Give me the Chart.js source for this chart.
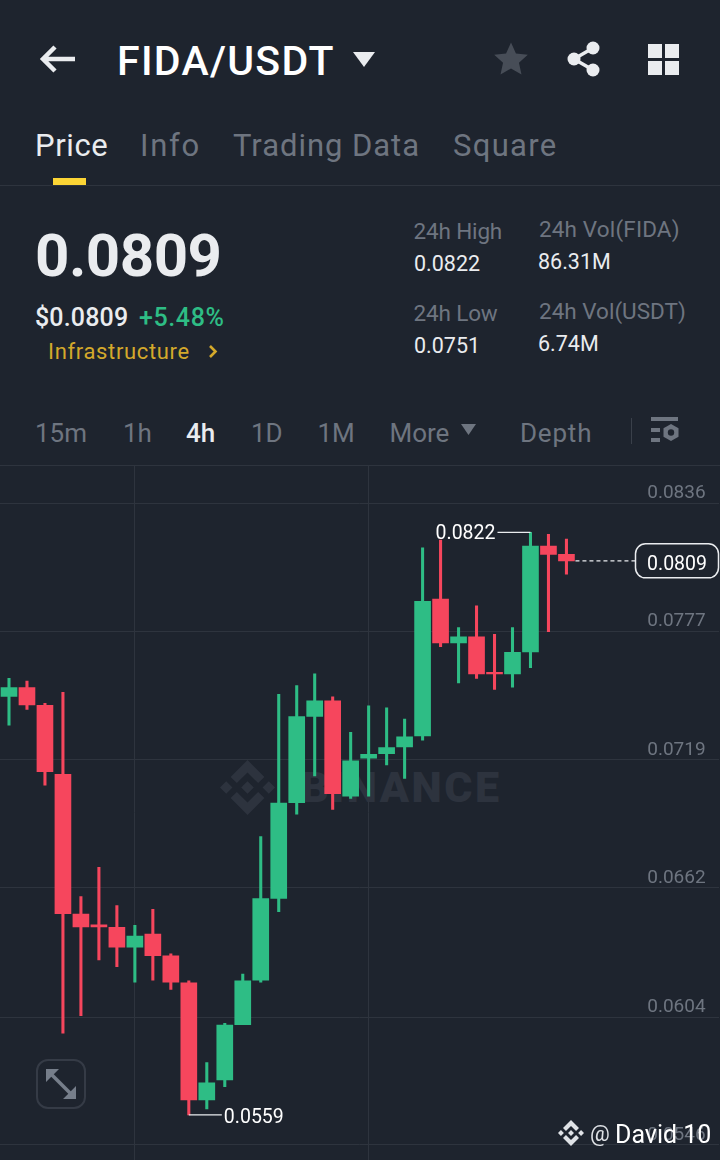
<!DOCTYPE html>
<html>
<head>
<meta charset="utf-8">
<title>FIDA/USDT</title>
<script src="https://cdn.jsdelivr.net/npm/chart.js@4"></script>
<style>
  html, body { margin: 0; padding: 0; background: #1e242e; }
  #page { position: relative; width: 720px; height: 1160px; overflow: hidden; background: #1e242e; font-family: Roboto, sans-serif; color: #eaecef; }
  .t { position: absolute; white-space: nowrap; transform: translateY(-50%); line-height: 1; }
  .muted { color: #6e7580; }
  .rule { position: absolute; left: 0; width: 720px; height: 1px; background: #2e343e; }
  svg { position: absolute; }
  canvas { position: absolute; left: 0; top: 465px; }
</style>
</head>
<body>
<div id="page">
  <!-- top bar -->
  <svg style="left:38px;top:43px" width="38" height="32" viewBox="0 0 38 32"><path d="M17 4L5 16l12 12M5 16h32" fill="none" stroke="#eaecef" stroke-width="4.5"/></svg>
  <div class="t" style="left:117px;top:61px;font-size:41px;font-weight:500;color:#fff;letter-spacing:1.300px">FIDA/USDT</div>
  <svg style="left:352px;top:50px" width="24" height="18" viewBox="0 0 24 18"><path d="M1 2h22L12 17z" fill="#eaecef"/></svg>
  <svg style="left:493px;top:41px" width="36" height="36" viewBox="0 0 24 24"><path d="M12 1l3.3 7.4 7.9.8-5.9 5.3 1.7 7.9-7-4.1-7 4.1 1.7-7.9L.8 9.2l7.9-.8z" fill="#474d57"/></svg>
  <svg style="left:566px;top:41px" width="36" height="36" viewBox="0 0 36 36"><g fill="#eaecef"><circle cx="8" cy="18" r="6.5"/><circle cx="27" cy="7" r="6.5"/><circle cx="27" cy="29" r="6.5"/></g><path d="M8 18L27 7M8 18l19 11" stroke="#eaecef" stroke-width="3.5"/></svg>
  <svg style="left:648px;top:44px" width="32" height="31" viewBox="0 0 32 31"><g fill="#eaecef"><rect x="0" y="0" width="14" height="14"/><rect x="17" y="0" width="14" height="14"/><rect x="0" y="17" width="14" height="14"/><rect x="17" y="17" width="14" height="14"/></g></svg>

  <!-- tabs -->
  <div class="t" style="left:35px;top:145px;font-size:31px;color:#eaecef;letter-spacing:.6px">Price</div>
  <div class="t muted" style="left:140px;top:145px;font-size:31px;letter-spacing:1.700px">Info</div>
  <div class="t muted" style="left:233px;top:145px;font-size:31px;letter-spacing:.950px">Trading Data</div>
  <div class="t muted" style="left:453px;top:145px;font-size:31px;letter-spacing:1.300px">Square</div>
  <div style="position:absolute;left:53px;top:178px;width:33px;height:7px;background:#fcd535"></div>
  <div class="rule" style="top:185px"></div>

  <!-- price block -->
  <div class="t" style="left:35px;top:256px;font-size:60px;font-weight:700;letter-spacing:-.5px">0.0809</div>
  <div class="t" style="left:35px;top:317px;font-size:25px;font-weight:500;letter-spacing:.15px">$0.0809</div>
  <div class="t" style="left:139px;top:317px;font-size:25px;font-weight:500;color:#2ebd85;letter-spacing:.6px">+5.48%</div>
  <div class="t" style="left:48px;top:352px;font-size:22px;color:#d4a92b;letter-spacing:.65px">Infrastructure</div>
  <svg style="left:207px;top:344px" width="12" height="15" viewBox="0 0 12 15"><path d="M3 2l5.5 5.5L3 13" fill="none" stroke="#d4a92b" stroke-width="2.6"/></svg>

  <div class="t muted" style="left:413.500px;top:231px;font-size:22.500px;letter-spacing:-.15px">24h High</div>
  <div class="t" style="left:414px;top:264px;font-size:21.500px">0.0822</div>
  <div class="t muted" style="left:413.500px;top:313px;font-size:22.500px;letter-spacing:-.15px">24h Low</div>
  <div class="t" style="left:414px;top:346px;font-size:21.500px">0.0751</div>
  <div class="t muted" style="left:539px;top:229px;font-size:22.500px;letter-spacing:.15px">24h Vol(FIDA)</div>
  <div class="t" style="left:538px;top:262px;font-size:21.500px">86.31M</div>
  <div class="t muted" style="left:539px;top:311px;font-size:22.500px">24h Vol(USDT)</div>
  <div class="t" style="left:538px;top:344px;font-size:21.500px">6.74M</div>

  <!-- interval row -->
  <div class="t muted" style="left:35px;top:433px;font-size:26px">15m</div>
  <div class="t muted" style="left:123px;top:433px;font-size:26px">1h</div>
  <div class="t" style="left:186px;top:433px;font-size:26px;font-weight:500">4h</div>
  <div class="t muted" style="left:251px;top:433px;font-size:26px">1D</div>
  <div class="t muted" style="left:317.500px;top:433px;font-size:26px">1M</div>
  <div class="t muted" style="left:389.500px;top:433px;font-size:26px">More</div>
  <svg style="left:460px;top:423px" width="17" height="13" viewBox="0 0 17 13"><path d="M1 1h15L8.500 12z" fill="#6e7580"/></svg>
  <div class="t muted" style="left:520px;top:433px;font-size:26px;letter-spacing:.8px">Depth</div>
  <div style="position:absolute;left:631px;top:418px;width:1px;height:26px;background:#3a404a"></div>
  <svg style="left:650px;top:416px" width="30" height="29" viewBox="0 0 30 29"><g fill="#6e7580"><rect x="1" y="1" width="27" height="4"/><rect x="1" y="12" width="9" height="4"/><rect x="1" y="22" width="9" height="4"/><path d="M21 8l7.500 4.300v8.500L21 25l-7.500-4.200v-8.500z"/></g><circle cx="21" cy="16.500" r="3.200" fill="#1e242e"/></svg>

  <div class="rule" style="top:465px"></div>

  <!-- chart watermark, sits below the canvas -->
  <svg style="left:220px;top:760px" width="55" height="55" viewBox="0 0 126.61 126.61"><path fill="#2d333e" d="M38.73 53.2l24.59-24.58 24.6 24.6 14.3-14.31L63.32 0 24.42 38.9zM0 63.31l14.3-14.31 14.31 14.31-14.31 14.3zM38.73 73.41L63.32 98l24.6-24.6 14.31 14.29-38.9 38.91-38.91-38.88zM98 63.31l14.3-14.31 14.31 14.3-14.31 14.32zM77.83 63.3L63.32 48.78 52.59 59.51l-1.24 1.23-2.54 2.54 14.51 14.5 14.51-14.47z"/></svg>
  <div class="t" style="left:301px;top:787px;font-size:43px;font-weight:900;color:#2d333e;letter-spacing:2.500px">BINANCE</div>

  <canvas id="candleChart" width="720" height="695"></canvas>

  <!-- expand button -->
  <svg style="left:36px;top:1059px" width="50" height="50" viewBox="0 0 50 50"><rect x="1" y="1" width="48" height="48" rx="11" fill="#1e242e" stroke="#353b46" stroke-width="2"/><path d="M14 14l22 22" fill="none" stroke="#767e8a" stroke-width="3.500"/><path fill="#767e8a" d="M10 10h13L10 23zM40 40H27l13-13z"/></svg>

  <!-- corner watermark -->
  <svg style="left:558px;top:1120px" width="26" height="26" viewBox="0 0 126.61 126.61"><path fill="#dfe2e6" d="M38.73 53.2l24.59-24.58 24.6 24.6 14.3-14.31L63.32 0 24.42 38.9zM0 63.31l14.3-14.31 14.31 14.31-14.31 14.3zM38.73 73.41L63.32 98l24.6-24.6 14.31 14.29-38.9 38.91-38.91-38.88zM98 63.31l14.3-14.31 14.31 14.3-14.31 14.32zM77.83 63.3L63.32 48.78 52.59 59.51l-1.24 1.23-2.54 2.54 14.51 14.5 14.51-14.47z"/></svg>
  <div class="t" style="left:590px;top:1134px;font-size:22px;color:#dfe2e6">@</div>
  <div class="t" style="left:615px;top:1134px;font-size:25px;color:#fff">David 10</div>
</div>

<script>
// 4h candles, oldest first
const opens  = [0.07487,0.07526,0.07446,0.07135,0.06503,0.06454,0.06443,0.06354,0.06413,0.06314,0.06193,0.05663,0.05754,0.06003,0.06204,0.06574,0.07006,0.07396,0.07466,0.07036,0.07207,0.07228,0.07258,0.07308,0.07926,0.07728,0.07756,0.07595,0.07588,0.07688,0.08166,0.08128];
const highs  = [0.07568,0.07556,0.07455,0.07505,0.06582,0.06714,0.06541,0.06452,0.06525,0.06323,0.06202,0.05832,0.06010,0.06232,0.06853,0.07496,0.07535,0.07588,0.07485,0.07324,0.07444,0.07435,0.07384,0.08158,0.08193,0.07797,0.07896,0.07767,0.07797,0.08228,0.08219,0.08197];
const lows   = [0.07357,0.07428,0.07086,0.05965,0.06044,0.06296,0.06265,0.06195,0.06205,0.06163,0.05596,0.05623,0.05723,0.06003,0.06195,0.06514,0.06955,0.07127,0.06976,0.07026,0.07036,0.07177,0.07116,0.07289,0.07711,0.07547,0.07568,0.07518,0.07528,0.07616,0.07779,0.08039];
const closes = [0.07526,0.07448,0.07146,0.06505,0.06445,0.06445,0.06354,0.06404,0.06315,0.06195,0.05663,0.05741,0.06002,0.06202,0.06573,0.07004,0.07395,0.07466,0.07047,0.07195,0.07225,0.07255,0.07304,0.07916,0.07728,0.07756,0.07588,0.07588,0.07686,0.08166,0.08128,0.08099];

const yTickValues = [0.08360,0.07782,0.07201,0.06621,0.06038,0.05460];
const yTickLabels = ['0.0836','0.0777','0.0719','0.0662','0.0604','0.0546'];
const yMin = 0.05392, yMax = 0.08532;

const slotCount = 40;              // room is left to the right of the last candle
const verticalGridAt = [7, 20];    // candle slots with a time grid line

const highLabel = '0.0822', lowLabel = '0.0559', lastLabel = '0.0809';

const GREEN = '#2ebd85', RED = '#f6465d';
const GRID = '#2e343e';

const slots = Array.from({ length: slotCount }, (_, i) => String(i));
const candleColors = opens.map((o, i) => closes[i] >= o ? GREEN : RED);

// high/low callouts and the last price tag
const overlayPlugin = {
  id: 'overlay',
  afterDatasetsDraw(chart) {
    const { ctx, scales: { x, y } } = chart;
    const hiIdx = highs.indexOf(Math.max(...highs));
    const loIdx = lows.indexOf(Math.min(...lows));
    ctx.save();
    ctx.font = '19.5px Roboto';
    ctx.textBaseline = 'middle';
    ctx.strokeStyle = '#eaecef';
    ctx.fillStyle = '#fff';
    ctx.lineWidth = 1.2;

    const hx = x.getPixelForValue(hiIdx), hy = y.getPixelForValue(highs[hiIdx]);
    ctx.beginPath(); ctx.moveTo(hx, hy); ctx.lineTo(hx - 33, hy); ctx.stroke();
    ctx.textAlign = 'right';
    ctx.fillText(highLabel, hx - 35, hy + 2);

    const lx = x.getPixelForValue(loIdx), ly = y.getPixelForValue(lows[loIdx]);
    ctx.beginPath(); ctx.moveTo(lx, ly); ctx.lineTo(lx + 33, ly); ctx.stroke();
    ctx.textAlign = 'left';
    ctx.fillText(lowLabel, lx + 35, ly + 3);

    // last price
    const last = closes[closes.length - 1];
    const py = y.getPixelForValue(last);
    const px = x.getPixelForValue(closes.length - 1) + 9;
    ctx.setLineDash([4, 3]);
    ctx.beginPath(); ctx.moveTo(px, py); ctx.lineTo(635, py); ctx.stroke();
    ctx.setLineDash([]);
    ctx.lineWidth = 1.5;
    ctx.fillStyle = '#1e242e';
    ctx.beginPath(); ctx.roundRect(635.5, py - 17, 83, 34, 10); ctx.fill(); ctx.stroke();
    ctx.fillStyle = '#fff';
    ctx.textAlign = 'center';
    ctx.fillText(lastLabel, 677, py + 4);
    ctx.restore();
  }
};

new Chart(document.getElementById('candleChart'), {
  type: 'bar',
  data: {
    labels: slots,
    datasets: [
      { label: 'Body', data: opens.map((o, i) => [o, closes[i]]), backgroundColor: candleColors, barThickness: 16, grouped: false },
      { label: 'Wick', data: lows.map((l, i) => [l, highs[i]]), backgroundColor: candleColors, barThickness: 2.4, grouped: false }
    ]
  },
  options: {
    responsive: false,
    animation: false,
    layout: { padding: { left: -0.7, right: 0.7 } },
    plugins: { legend: { display: false }, tooltip: { enabled: false } },
    scales: {
      x: {
        border: { display: false },
        grid: {
          offset: false,
          drawTicks: false,
          color: ctx => verticalGridAt.includes(ctx.index) ? GRID : 'transparent'
        },
        ticks: { display: false, autoSkip: false }
      },
      y: {
        position: 'right',
        min: yMin,
        max: yMax,
        afterBuildTicks: scale => { scale.ticks = yTickValues.map(v => ({ value: v })); },
        border: { display: false },
        grid: { color: GRID, drawTicks: false },
        ticks: {
          mirror: true,
          padding: -13.7,
          labelOffset: -9.5,
          color: '#6e7580',
          font: { family: 'Roboto', size: 19 },
          callback: (v, i) => yTickLabels[i]
        }
      }
    }
  },
  plugins: [overlayPlugin]
});
</script>
</body>
</html>
